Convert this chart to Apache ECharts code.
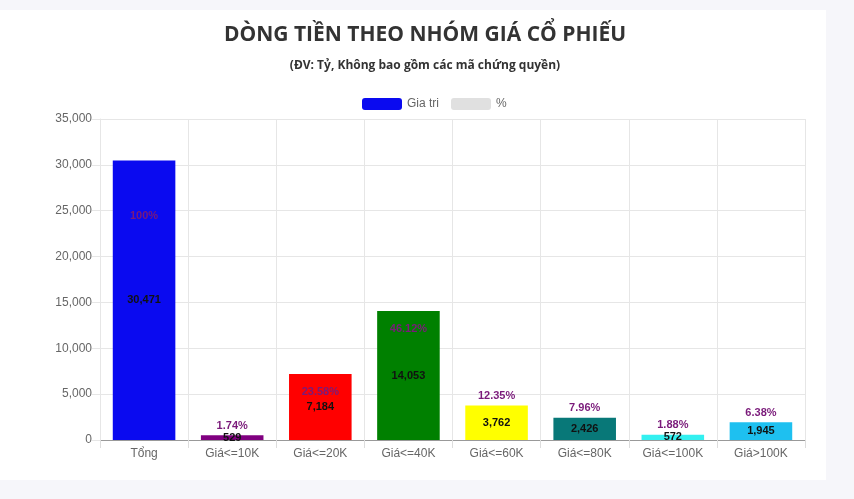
<!DOCTYPE html><html><head><meta charset="utf-8"><script src="https://cdn.jsdelivr.net/npm/echarts@6/dist/echarts.min.js"></script>
<style>html,body{margin:0;background:#f6f6fa;}#c{position:absolute;left:0;top:10px;width:826px;height:470px;background:#fff;}</style></head><body><div id="c"></div><script>
const categories=['Tổng','Giá<=10K','Giá<=20K','Giá<=40K','Giá<=60K','Giá<=80K','Giá<=100K','Giá>100K'];
const values=[30471,529,7184,14053,3762,2426,572,1945];
const percents=['100%','1.74%','23.58%','46.12%','12.35%','7.96%','1.88%','6.38%'];
const colors=['#0a0af0','#800080','#ff0000','#008000','#ffff00','#087878','#33f0f0','#1ec0f0'];
const yTicks=[0,5000,10000,15000,20000,25000,30000,35000];
const ch=echarts.init(document.getElementById('c'));
ch.setOption({
 animation:false,
 title:{text:'DÒNG TIỀN THEO NHÓM GIÁ CỔ PHIẾU',subtext:'(ĐV: Tỷ, Không bao gồm các mã chứng quyền)',left:420,textAlign:'center',top:10,
  textStyle:{fontFamily:'Open Sans',fontSize:21,fontWeight:'bold',color:'#333'},
  subtextStyle:{fontFamily:'Open Sans',fontSize:12,fontWeight:'bold',color:'#333'},itemGap:14},
 legend:{top:83,left:357,itemWidth:40,itemHeight:12,itemGap:12,textStyle:{color:'#666',fontSize:12},
  data:[{name:'Gia tri',itemStyle:{color:'#0a0af0'}},{name:'%',itemStyle:{color:'#e0e0e0'}}]},
 grid:{left:100,right:21,top:109,bottom:40},
 xAxis:{type:'category',data:categories,axisTick:{show:true,length:8,lineStyle:{color:'#ddd'}},
  axisLine:{lineStyle:{color:'#999'}},splitLine:{show:true,lineStyle:{color:'#e6e6e6'}},
  axisLabel:{color:'#666',fontSize:12}},
 yAxis:{type:'value',min:0,max:35000,interval:5000,axisLine:{show:true,lineStyle:{color:'#e6e6e6'}},axisTick:{show:true,length:8,lineStyle:{color:'#e6e6e6'}},
  splitLine:{lineStyle:{color:'#e6e6e6'}},axisLabel:{color:'#666',fontSize:12,formatter:v=>v.toLocaleString('en-US')}},
 series:[
  {name:'Gia tri',type:'bar',barWidth:'71%',barGap:'-100%',
   data:values.map((v,i)=>({value:v,itemStyle:{color:colors[i]}})),
   label:{show:true,position:'inside',color:'#111',fontWeight:'bold',fontSize:11,formatter:p=>p.value.toLocaleString('en-US')}},
  {name:'%',type:'bar',barWidth:'71%',barGap:'-100%',itemStyle:{color:'rgba(0,0,0,0)'},
   data:values.map((v,i)=>({value:v,label:{position:v>5000?'insideTop':'top',distance:v>5000?(v>20000?50:12):4}})),
   label:{show:true,color:'#7a1a7a',fontWeight:'bold',fontSize:11,formatter:p=>percents[p.dataIndex]}}
 ]});
</script></body></html>
